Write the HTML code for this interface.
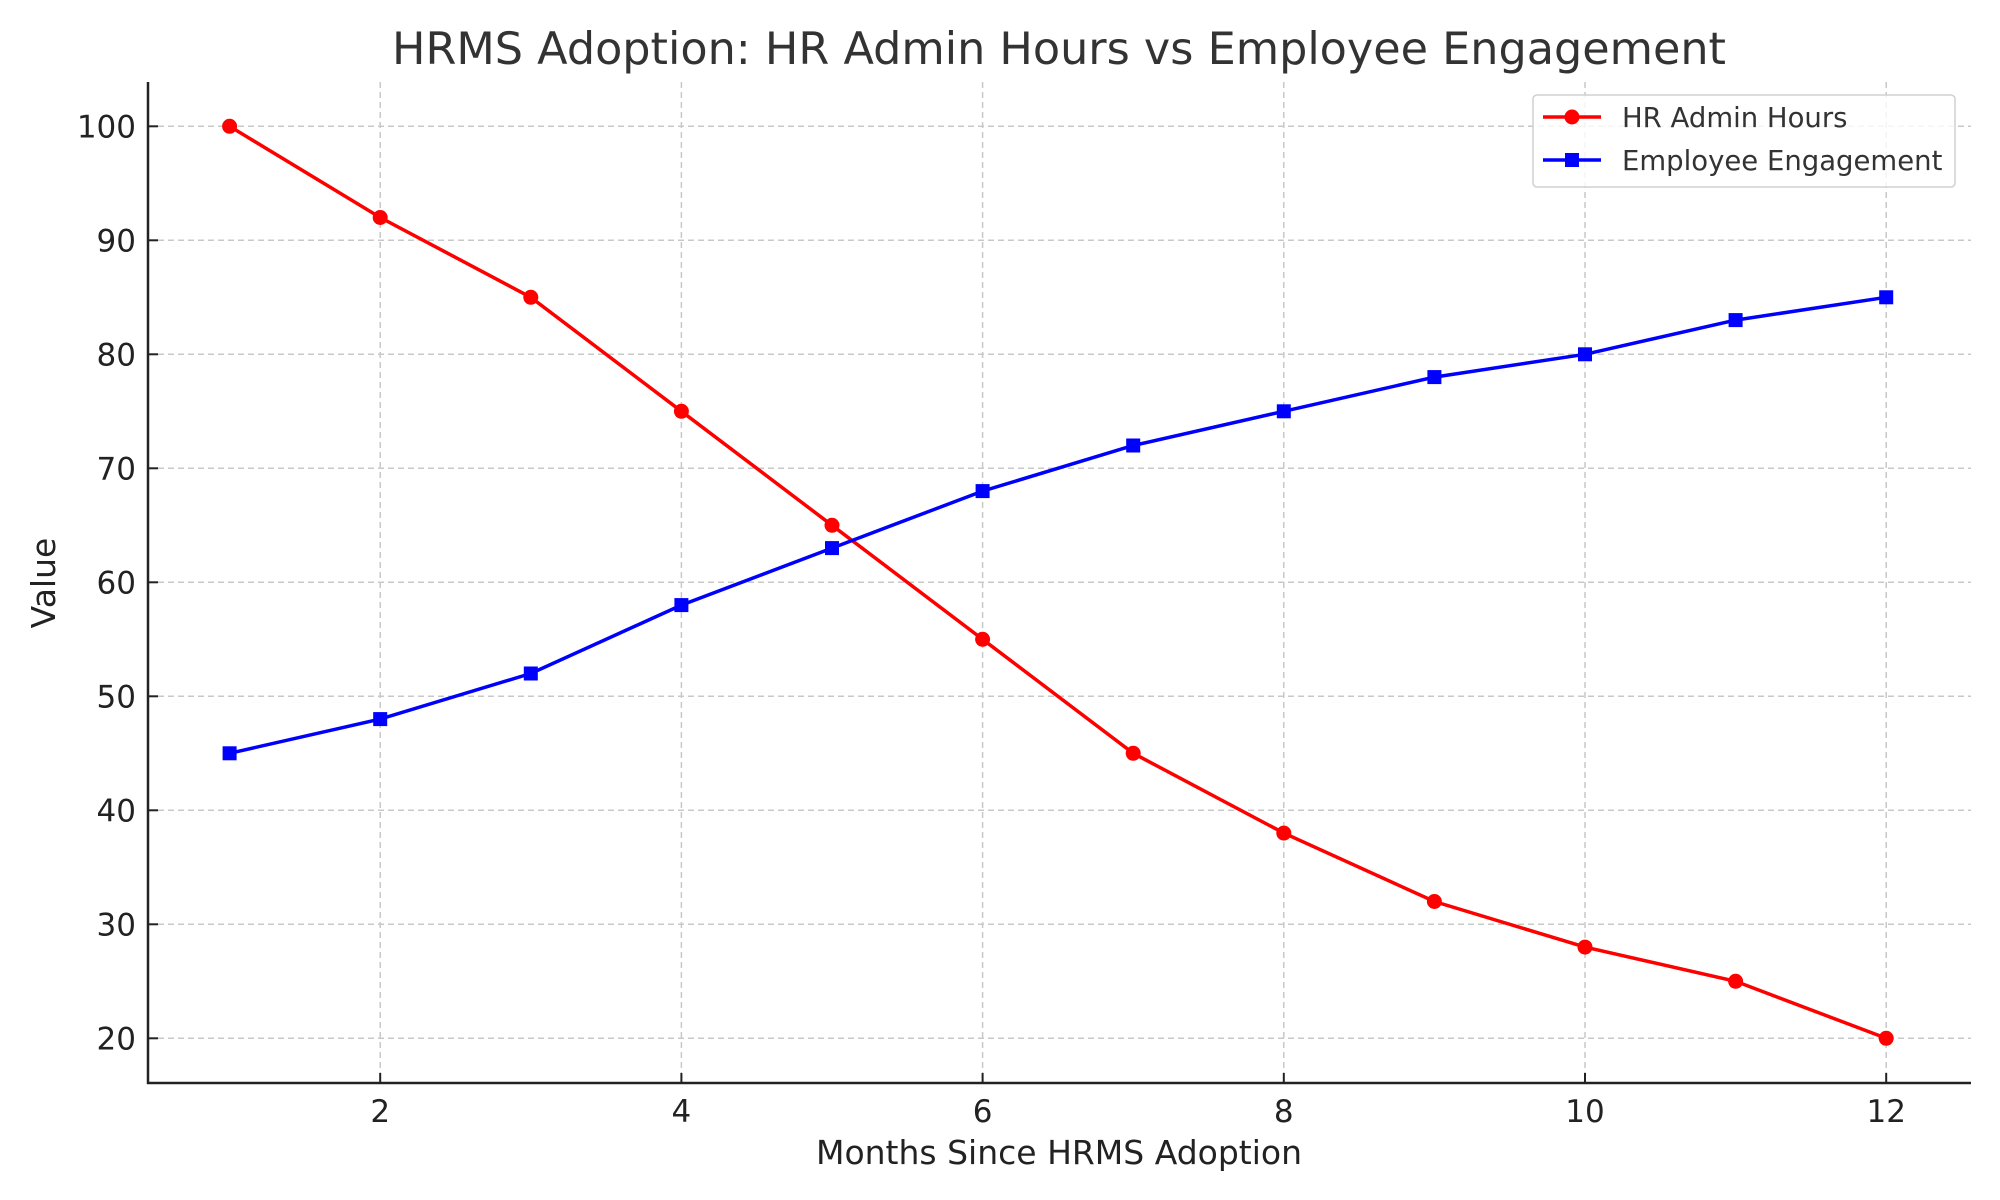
<!DOCTYPE html>
<html><head><meta charset="utf-8"><style>html,body{margin:0;padding:0;background:#fff}svg{display:block}</style></head>
<body>
<svg width="2000" height="1200" xmlns="http://www.w3.org/2000/svg" font-family="DejaVu Sans, Liberation Sans, sans-serif">
<rect width="2000" height="1200" fill="#fff"/>
<g stroke="#c8c8c8" stroke-width="1.5" stroke-dasharray="6,4">
<line x1="380.2" y1="82" x2="380.2" y2="1083"/><line x1="681.4" y1="82" x2="681.4" y2="1083"/><line x1="982.6" y1="82" x2="982.6" y2="1083"/><line x1="1283.8" y1="82" x2="1283.8" y2="1083"/><line x1="1585" y1="82" x2="1585" y2="1083"/><line x1="1886.2" y1="82" x2="1886.2" y2="1083"/>
<line x1="148" y1="126.3" x2="1971" y2="126.3"/><line x1="148" y1="240.3" x2="1971" y2="240.3"/><line x1="148" y1="354.3" x2="1971" y2="354.3"/><line x1="148" y1="468.3" x2="1971" y2="468.3"/><line x1="148" y1="582.3" x2="1971" y2="582.3"/><line x1="148" y1="696.3" x2="1971" y2="696.3"/><line x1="148" y1="810.3" x2="1971" y2="810.3"/><line x1="148" y1="924.3" x2="1971" y2="924.3"/><line x1="148" y1="1038.3" x2="1971" y2="1038.3"/>
</g>
<g stroke="#222" stroke-width="2.5" fill="none">
<line x1="148" y1="82" x2="148" y2="1084"/><line x1="147" y1="1083" x2="1971" y2="1083"/>
</g>
<g stroke="#222" stroke-width="2">
<line x1="380.2" y1="1083" x2="380.2" y2="1073"/><line x1="681.4" y1="1083" x2="681.4" y2="1073"/><line x1="982.6" y1="1083" x2="982.6" y2="1073"/><line x1="1283.8" y1="1083" x2="1283.8" y2="1073"/><line x1="1585" y1="1083" x2="1585" y2="1073"/><line x1="1886.2" y1="1083" x2="1886.2" y2="1073"/>
<line x1="148" y1="126.3" x2="158" y2="126.3"/><line x1="148" y1="240.3" x2="158" y2="240.3"/><line x1="148" y1="354.3" x2="158" y2="354.3"/><line x1="148" y1="468.3" x2="158" y2="468.3"/><line x1="148" y1="582.3" x2="158" y2="582.3"/><line x1="148" y1="696.3" x2="158" y2="696.3"/><line x1="148" y1="810.3" x2="158" y2="810.3"/><line x1="148" y1="924.3" x2="158" y2="924.3"/><line x1="148" y1="1038.3" x2="158" y2="1038.3"/>
</g>
<g fill="#222" font-size="31" text-anchor="middle">
<text x="380.2" y="1122">2</text><text x="681.4" y="1122">4</text><text x="982.6" y="1122">6</text><text x="1283.8" y="1122">8</text><text x="1585" y="1122">10</text><text x="1886.2" y="1122">12</text>
</g>
<g fill="#222" font-size="31" text-anchor="end">
<text x="136" y="137.3">100</text><text x="136" y="251.3">90</text><text x="136" y="365.3">80</text><text x="136" y="479.3">70</text><text x="136" y="593.3">60</text><text x="136" y="707.3">50</text><text x="136" y="821.3">40</text><text x="136" y="935.3">30</text><text x="136" y="1049.3">20</text>
</g>
<text x="1059" y="1164" font-size="33" fill="#222" text-anchor="middle">Months Since HRMS Adoption</text>
<text x="0" y="0" font-size="33" fill="#222" text-anchor="middle" transform="translate(55,583) rotate(-90)">Value</text>
<text x="1059" y="64" font-size="44.5" fill="#333" text-anchor="middle">HRMS Adoption: HR Admin Hours vs Employee Engagement</text>
<polyline fill="none" stroke="#ff0000" stroke-width="3.5" points="229.6,126.3 380.2,217.5 530.8,297.3 681.4,411.3 832,525.3 982.6,639.3 1133.2,753.3 1283.8,833.1 1434.4,901.5 1585,947.1 1735.6,981.3 1886.2,1038.3"/>
<g fill="#ff0000">
<circle cx="229.6" cy="126.3" r="7.5"/><circle cx="380.2" cy="217.5" r="7.5"/><circle cx="530.8" cy="297.3" r="7.5"/><circle cx="681.4" cy="411.3" r="7.5"/><circle cx="832" cy="525.3" r="7.5"/><circle cx="982.6" cy="639.3" r="7.5"/><circle cx="1133.2" cy="753.3" r="7.5"/><circle cx="1283.8" cy="833.1" r="7.5"/><circle cx="1434.4" cy="901.5" r="7.5"/><circle cx="1585" cy="947.1" r="7.5"/><circle cx="1735.6" cy="981.3" r="7.5"/><circle cx="1886.2" cy="1038.3" r="7.5"/>
</g>
<polyline fill="none" stroke="#0000ff" stroke-width="3.5" points="229.6,753.3 380.2,719.1 530.8,673.5 681.4,605.1 832,548.1 982.6,491.1 1133.2,445.5 1283.8,411.3 1434.4,377.1 1585,354.3 1735.6,320.1 1886.2,297.3"/>
<g fill="#0000ff">
<rect x="222.6" y="746.3" width="14" height="14"/><rect x="373.2" y="712.1" width="14" height="14"/><rect x="523.8" y="666.5" width="14" height="14"/><rect x="674.4" y="598.1" width="14" height="14"/><rect x="825" y="541.1" width="14" height="14"/><rect x="975.6" y="484.1" width="14" height="14"/><rect x="1126.2" y="438.5" width="14" height="14"/><rect x="1276.8" y="404.3" width="14" height="14"/><rect x="1427.4" y="370.1" width="14" height="14"/><rect x="1578" y="347.3" width="14" height="14"/><rect x="1728.6" y="313.1" width="14" height="14"/><rect x="1879.2" y="290.3" width="14" height="14"/>
</g>
<rect x="1533" y="95" width="422" height="92" rx="4" fill="#fff" fill-opacity="0.8" stroke="#d0d0d0" stroke-width="1.5"/>
<line x1="1543" y1="117" x2="1601" y2="117" stroke="#ff0000" stroke-width="3.5"/>
<circle cx="1572" cy="117" r="7.5" fill="#ff0000"/>
<line x1="1543" y1="160" x2="1601" y2="160" stroke="#0000ff" stroke-width="3.5"/>
<rect x="1565" y="153" width="14" height="14" fill="#0000ff"/>
<g fill="#333" font-size="27.5">
<text x="1622" y="127">HR Admin Hours</text>
<text x="1622" y="170">Employee Engagement</text>
</g>
</svg>
</body></html>
